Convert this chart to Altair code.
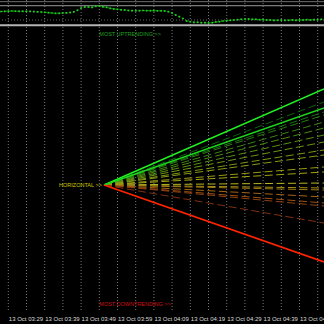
import altair as alt
import pandas as pd

# ---------------- data ----------------
# time axis: minutes after 03:00 on 13 Oct (M1 bars)
X_DOMAIN = [26.72, 115.73]
GRID_MINUTES = [19, 24, 29, 34, 39, 44, 49, 54, 59, 64, 69, 74, 79, 84, 89, 94, 99, 104, 109, 114]
TICK_MINUTES = [19, 29, 39, 49, 59, 69, 79, 89, 99, 109]
TICK_LABELS = ["13 Oct 03:19", "13 Oct 03:29", "13 Oct 03:39", "13 Oct 03:49", "13 Oct 03:59",
               "13 Oct 04:09", "13 Oct 04:19", "13 Oct 04:29", "13 Oct 04:39", "13 Oct 04:49"]

# indicator sub-window (one value per minute bar)
IND_MINUTES = list(range(27, 116))
IND_VALUES = [55.7, 56.5, 57.0, 57.8, 57.0, 56.5, 56.5, 56.5, 56.1, 55.3,
              54.4, 53.6, 52.3, 50.7, 49.4, 48.1, 48.1, 49.4, 49.8, 51.5,
              54.4, 60.7, 70.4, 74.6, 74.6, 73.3, 77.5, 78.8, 75.4, 73.3,
              69.1, 66.2, 64.9, 62.8, 62.0, 59.9, 59.1, 59.1, 59.1, 59.9,
              59.1, 59.1, 59.1, 58.6, 58.6, 57.8, 54.9, 49.4, 41.0, 33.9,
              26.3, 15.8, 12.9, 10.3, 10.3, 8.7, 8.7, 7.4, 8.7, 11.6,
              12.9, 15.8, 17.1, 18.7, 20.0, 21.3, 22.9, 24.2, 24.2, 22.9,
              22.9, 21.3, 21.3, 20.0, 20.0, 18.7, 18.7, 20.0, 18.7, 18.7,
              20.0, 18.7, 20.0, 20.0, 21.3, 20.0, 21.3, 21.3, 22.9]
IND_DOMAIN = [-9.4, 104.0]
LEVEL_VALUES = [97, 80]
LEVEL_COLORS = ["#6e6e6e", "#9a9a9a"]
DOTTED_LEVEL = [20]
SEPARATOR = [-1.8]

# main window (price)
PRICE_DOMAIN = [1.2873, 1.3158]
APEX_TIME = 55.3
APEX_PRICE = 1.3000
END_TIME = 115.73

SOLID_NAMES = ["up_main", "up_second", "down_main"]
SOLID_END = [1.3096, 1.3077, 1.2923]
SOLID_COLORS = ["#22f022", "#1cd81c", "#ff2400"]
SOLID_WIDTHS = [1.6, 1.4, 1.8]

DASH_END = [1.3083, 1.3073, 1.3070, 1.3063, 1.3057, 1.3050, 1.3043, 1.3035, 1.3030,
            1.3018, 1.3013, 1.3002, 1.2997, 1.2995, 1.2988, 1.2982, 1.2979, 1.2962]
DASH_COLORS = ["#0c640c", "#1a7412", "#2a7c12", "#3a8412", "#4a8a12", "#5a9012", "#6a9612",
               "#7a9812", "#8a9a12", "#9a9a12", "#a4a414", "#b8b820", "#a89014", "#9c7812",
               "#a46414", "#a05012", "#904010", "#803010"]

TEXT_LABELS = ["MOST UPTRENDING >>", "MOST DOWNTRENDING >>"]
TEXT_TIMES = [54.0, 54.0]
TEXT_PRICES = [1.31507, 1.2881]
TEXT_COLORS = ["#20a020", "#cc1010"]
HORIZ_LABEL = ["HORIZONTAL >>"]

# ---------------- tables ----------------
ind_df = pd.DataFrame({"t": IND_MINUTES, "v": IND_VALUES})
lvl_df = pd.DataFrame({"v": LEVEL_VALUES, "c": LEVEL_COLORS})
dot_df = pd.DataFrame({"v": DOTTED_LEVEL})
sep_df = pd.DataFrame({"v": SEPARATOR})
grid_df = pd.DataFrame({"t": GRID_MINUTES})

rows = []
for n, e, c, w in zip(SOLID_NAMES, SOLID_END, SOLID_COLORS, SOLID_WIDTHS):
    rows.append({"id": n, "t": APEX_TIME, "p": APEX_PRICE, "c": c, "w": w})
    rows.append({"id": n, "t": END_TIME, "p": e, "c": c, "w": w})
solid_df = pd.DataFrame(rows)

rows = []
for i, (e, c) in enumerate(zip(DASH_END, DASH_COLORS)):
    rows.append({"id": f"d{i}", "t": APEX_TIME, "p": APEX_PRICE, "c": c})
    rows.append({"id": f"d{i}", "t": END_TIME, "p": e, "c": c})
dash_df = pd.DataFrame(rows)

text_df = pd.DataFrame({"label": TEXT_LABELS, "t": TEXT_TIMES, "p": TEXT_PRICES, "c": TEXT_COLORS})
horiz_df = pd.DataFrame({"label": HORIZ_LABEL, "t": [54.7], "p": [APEX_PRICE]})

# ---------------- scales / axis ----------------
label_expr = ""
for m, lab in zip(TICK_MINUTES, TICK_LABELS):
    label_expr += f"datum.value == {m} ? '{lab}' : "
label_expr += "''"

xaxis = alt.Axis(values=GRID_MINUTES, labelExpr=label_expr, grid=False, ticks=False, domain=False,
                 labelAlign="left", labelBaseline="top", labelPadding=3, labelFontSize=6,
                 labelFont="Liberation Sans", labelColor="#dcdcdc", labelOverlap=False,
                 labelFlush=False, labelBound=False, title=None)
xscale = alt.Scale(domain=X_DOMAIN, nice=False, zero=False)
X = alt.X("t:Q", scale=xscale, axis=xaxis)

top_scale = alt.Scale(domain=IND_DOMAIN, range=[27, 0], nice=False, zero=False)
main_scale = alt.Scale(domain=PRICE_DOMAIN, range=[312, 27], nice=False, zero=False)

# ---------------- layers ----------------
grid = alt.Chart(grid_df).mark_rule(strokeWidth=1, strokeDash=[1, 2], color="#727a82").encode(
    x=X,
)
levels = alt.Chart(lvl_df).mark_rule(strokeWidth=1).encode(
    y=alt.Y("v:Q", scale=top_scale, axis=None),
    color=alt.Color("c:N", scale=None),
)
dotted = alt.Chart(dot_df).mark_rule(strokeWidth=1, strokeDash=[1, 2], color="#606060").encode(
    y=alt.Y("v:Q", scale=top_scale, axis=None),
)
sep = alt.Chart(sep_df).mark_rule(strokeWidth=2, color="#b4b4b4").encode(
    y=alt.Y("v:Q", scale=top_scale, axis=None),
)
ind_line = alt.Chart(ind_df).mark_line(color="#00a000", strokeWidth=1, strokeDash=[2, 2]).encode(
    x=X, y=alt.Y("v:Q", scale=top_scale, axis=None),
)
ind_pts = alt.Chart(ind_df).mark_point(shape="square", filled=True, size=3, color="#22d022", opacity=1).encode(
    x=X, y=alt.Y("v:Q", scale=top_scale, axis=None),
)

dashed = alt.Chart(dash_df).mark_line(strokeWidth=1, strokeDash=[8, 3.5], clip=True).encode(
    x=X, y=alt.Y("p:Q", scale=main_scale, axis=None),
    detail="id:N", color=alt.Color("c:N", scale=None),
)
solid = alt.Chart(solid_df).mark_line(clip=True).encode(
    x=X, y=alt.Y("p:Q", scale=main_scale, axis=None),
    detail="id:N", color=alt.Color("c:N", scale=None),
    strokeWidth=alt.StrokeWidth("w:Q", scale=None),
)
texts = alt.Chart(text_df).mark_text(align="left", baseline="middle", fontSize=5.5,
                                     font="Liberation Sans").encode(
    x=X, y=alt.Y("p:Q", scale=main_scale, axis=None),
    text="label:N", color=alt.Color("c:N", scale=None),
)
horiz = alt.Chart(horiz_df).mark_text(align="right", baseline="middle", fontSize=5.5,
                                      font="Liberation Sans", color="#c8c800").encode(
    x=X, y=alt.Y("p:Q", scale=main_scale, axis=None),
    text="label:N",
)

chart = alt.layer(
    grid, levels, dotted, sep, ind_line, ind_pts, dashed, solid, texts, horiz
).resolve_scale(y="independent").properties(
    width=324, height=312,
    autosize=alt.AutoSizeParams(type="none"),
    padding={"left": 0, "top": 0, "right": 0, "bottom": 12},
).configure(background="#000000").configure_view(stroke=None)

chart.save("out.html", embed_options={"renderer": "svg", "actions": False})
